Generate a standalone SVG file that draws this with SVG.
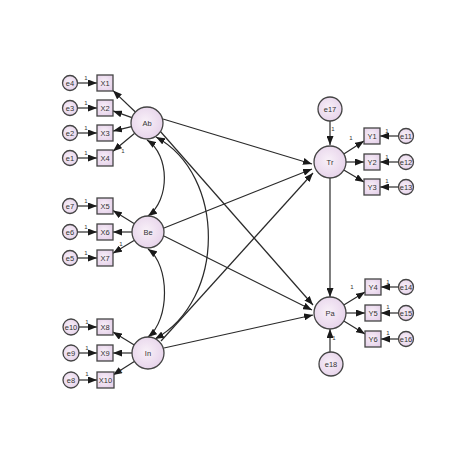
<svg xmlns="http://www.w3.org/2000/svg" width="474" height="474" viewBox="0 0 474 474">
<style>
.n{fill:url(#g);stroke:#444;stroke-width:1.3}
.t{font-family:"Liberation Sans",Arial,sans-serif;font-size:7.5px;fill:#333;text-anchor:middle;dominant-baseline:central}
.l{stroke:#2a2a2a;stroke-width:1.2;fill:none;marker-end:url(#a)}
.c{stroke:#2a2a2a;stroke-width:1.2;fill:none;marker-start:url(#a);marker-end:url(#a)}
.o{font-family:"Liberation Sans",Arial,sans-serif;font-size:6px;fill:#333;text-anchor:middle;dominant-baseline:central}
</style>
<defs>
<radialGradient id="g" cx="0.45" cy="0.45" r="0.6">
<stop offset="0" stop-color="#f8f0f8"/>
<stop offset="1" stop-color="#e6d2ea"/>
</radialGradient>
<marker id="a" markerUnits="userSpaceOnUse" markerWidth="9" markerHeight="7" refX="9" refY="3.5" orient="auto-start-reverse">
<path d="M0,0 L9,3.5 L0,7 z" fill="#1a1a1a"/>
</marker>
</defs>
<rect width="474" height="474" fill="#fff"/>
<g id="connectors">
<path class="l" d="M135.4,112 L113,90.6"/>
<path class="l" d="M131.9,117.6 L113,110.9"/>
<path class="l" d="M131.4,126.7 L113,131.1"/>
<path class="l" d="M134.7,133.2 L113,151.3"/>
<path class="l" d="M134,223.5 L113,210.5"/>
<path class="l" d="M132,232 L113,232"/>
<path class="l" d="M134,240.5 L113,253.2"/>
<path class="l" d="M134.3,345 L113,332"/>
<path class="l" d="M132,353 L113,353"/>
<path class="l" d="M134.3,361.5 L113,375"/>
<path class="l" d="M77.5,83 L97,83"/>
<path class="l" d="M77.5,108 L97,108"/>
<path class="l" d="M77.5,133 L97,133"/>
<path class="l" d="M77.5,158 L97,158"/>
<path class="l" d="M77.5,206 L97,206"/>
<path class="l" d="M77.5,232 L97,232"/>
<path class="l" d="M77.5,258 L97,258"/>
<path class="l" d="M79,327 L97,327"/>
<path class="l" d="M79,353 L97,353"/>
<path class="l" d="M79,380 L97,380"/>
<path class="l" d="M330,121 L330,145"/>
<path class="l" d="M343.8,154 L364,141"/>
<path class="l" d="M346,162 L364,162"/>
<path class="l" d="M343.8,170 L364,182"/>
<path class="l" d="M398.5,136 L380,136"/>
<path class="l" d="M398.5,162 L380,162"/>
<path class="l" d="M398.5,187 L380,187"/>
<path class="l" d="M330,178 L330,297"/>
<path class="l" d="M343.8,305 L365,292"/>
<path class="l" d="M346,313 L365,313"/>
<path class="l" d="M343.8,321 L365,334"/>
<path class="l" d="M398.5,287 L381,287"/>
<path class="l" d="M398.5,313 L381,313"/>
<path class="l" d="M398.5,339 L381,339"/>
<path class="l" d="M330,352 L330,329"/>
<path class="l" d="M163,119 L312,164"/>
<path class="l" d="M160,131 L313,305"/>
<path class="l" d="M164,228 L312,169"/>
<path class="l" d="M164,236 L312,310"/>
<path class="l" d="M161,341 L313,173"/>
<path class="l" d="M164,348 L313,315"/>
<path class="c" d="M147,140 C170,155 170,200 148,216"/>
<path class="c" d="M148,249 C170,265 170,320 148,337"/>
<path class="c" d="M156,137 C226,175 226,300 155,339"/>
</g>
<g id="labels1">
<text class="o" x="86" y="78">1</text>
<text class="o" x="86" y="103">1</text>
<text class="o" x="86" y="128">1</text>
<text class="o" x="86" y="153">1</text>
<text class="o" x="86" y="201">1</text>
<text class="o" x="86" y="227">1</text>
<text class="o" x="86" y="253">1</text>
<text class="o" x="87" y="322">1</text>
<text class="o" x="87" y="348">1</text>
<text class="o" x="87" y="374">1</text>
<text class="o" x="123" y="151">1</text>
<text class="o" x="121" y="244">1</text>
<text class="o" x="121" y="371">1</text>
<text class="o" x="333" y="129">1</text>
<text class="o" x="351" y="138">1</text>
<text class="o" x="387" y="131">1</text>
<text class="o" x="387" y="157">1</text>
<text class="o" x="387" y="181">1</text>
<text class="o" x="352" y="287">1</text>
<text class="o" x="388" y="282">1</text>
<text class="o" x="388" y="307">1</text>
<text class="o" x="388" y="333">1</text>
<text class="o" x="334" y="338">1</text>
</g>
<g id="Ab"><circle class="n" cx="147" cy="123" r="16"/><text class="t" x="147" y="123">Ab</text></g>
<g id="Be"><circle class="n" cx="148" cy="232" r="16"/><text class="t" x="148" y="232">Be</text></g>
<g id="In"><circle class="n" cx="148" cy="353" r="16"/><text class="t" x="148" y="353">In</text></g>
<g id="Tr"><circle class="n" cx="330" cy="162" r="16"/><text class="t" x="330" y="162">Tr</text></g>
<g id="Pa"><circle class="n" cx="330" cy="313" r="16"/><text class="t" x="330" y="313">Pa</text></g>
<g id="X1"><rect class="n" x="97" y="75" width="16" height="16"/><text class="t" x="105" y="83">X1</text></g>
<g id="X2"><rect class="n" x="97" y="100" width="16" height="16"/><text class="t" x="105" y="108">X2</text></g>
<g id="X3"><rect class="n" x="97" y="125" width="16" height="16"/><text class="t" x="105" y="133">X3</text></g>
<g id="X4"><rect class="n" x="97" y="150" width="16" height="16"/><text class="t" x="105" y="158">X4</text></g>
<g id="X5"><rect class="n" x="97" y="198" width="16" height="16"/><text class="t" x="105" y="206">X5</text></g>
<g id="X6"><rect class="n" x="97" y="224" width="16" height="16"/><text class="t" x="105" y="232">X6</text></g>
<g id="X7"><rect class="n" x="97" y="250" width="16" height="16"/><text class="t" x="105" y="258">X7</text></g>
<g id="X8"><rect class="n" x="97" y="319" width="16" height="16"/><text class="t" x="105" y="327">X8</text></g>
<g id="X9"><rect class="n" x="97" y="345" width="16" height="16"/><text class="t" x="105" y="353">X9</text></g>
<g id="X10"><rect class="n" x="97" y="372" width="17" height="16"/><text class="t" x="105.5" y="380">X10</text></g>
<g id="Y1"><rect class="n" x="364" y="128" width="16" height="16"/><text class="t" x="372" y="136">Y1</text></g>
<g id="Y2"><rect class="n" x="364" y="154" width="16" height="16"/><text class="t" x="372" y="162">Y2</text></g>
<g id="Y3"><rect class="n" x="364" y="179" width="16" height="16"/><text class="t" x="372" y="187">Y3</text></g>
<g id="Y4"><rect class="n" x="365" y="279" width="16" height="16"/><text class="t" x="373" y="287">Y4</text></g>
<g id="Y5"><rect class="n" x="365" y="305" width="16" height="16"/><text class="t" x="373" y="313">Y5</text></g>
<g id="Y6"><rect class="n" x="365" y="331" width="16" height="16"/><text class="t" x="373" y="339">Y6</text></g>
<g id="e4"><circle class="n" cx="70" cy="83" r="7.5"/><text class="t" x="70" y="83">e4</text></g>
<g id="e3"><circle class="n" cx="70" cy="108" r="7.5"/><text class="t" x="70" y="108">e3</text></g>
<g id="e2"><circle class="n" cx="70" cy="133" r="7.5"/><text class="t" x="70" y="133">e2</text></g>
<g id="e1"><circle class="n" cx="70" cy="158" r="7.5"/><text class="t" x="70" y="158">e1</text></g>
<g id="e7"><circle class="n" cx="70" cy="206" r="7.5"/><text class="t" x="70" y="206">e7</text></g>
<g id="e6"><circle class="n" cx="70" cy="232" r="7.5"/><text class="t" x="70" y="232">e6</text></g>
<g id="e5"><circle class="n" cx="70" cy="258" r="7.5"/><text class="t" x="70" y="258">e5</text></g>
<g id="e10"><circle class="n" cx="71" cy="327" r="8"/><text class="t" x="71" y="327">e10</text></g>
<g id="e9"><circle class="n" cx="71" cy="353" r="8"/><text class="t" x="71" y="353">e9</text></g>
<g id="e8"><circle class="n" cx="71" cy="380" r="8"/><text class="t" x="71" y="380">e8</text></g>
<g id="e11"><circle class="n" cx="406" cy="136" r="7.5"/><text class="t" x="406" y="136">e11</text></g>
<g id="e12"><circle class="n" cx="406" cy="162" r="7.5"/><text class="t" x="406" y="162">e12</text></g>
<g id="e13"><circle class="n" cx="406" cy="187" r="7.5"/><text class="t" x="406" y="187">e13</text></g>
<g id="e14"><circle class="n" cx="406" cy="287" r="7.5"/><text class="t" x="406" y="287">e14</text></g>
<g id="e15"><circle class="n" cx="406" cy="313" r="7.5"/><text class="t" x="406" y="313">e15</text></g>
<g id="e16"><circle class="n" cx="406" cy="339" r="7.5"/><text class="t" x="406" y="339">e16</text></g>
<g id="e17"><circle class="n" cx="330" cy="109" r="12"/><text class="t" x="330" y="109">e17</text></g>
<g id="e18"><circle class="n" cx="331" cy="364" r="12"/><text class="t" x="331" y="364">e18</text></g>
</svg>
